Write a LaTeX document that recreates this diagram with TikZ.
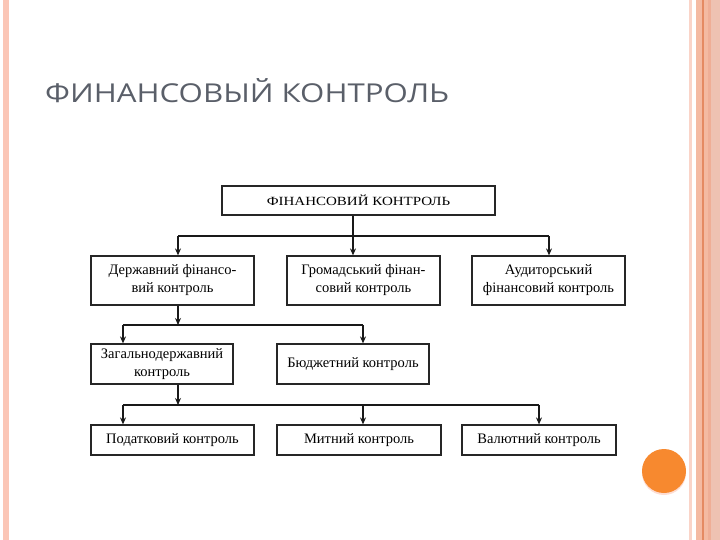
\documentclass[tikz,border=0pt]{standalone}
\usepackage{fontspec}
\setmainfont{Liberation Serif}
\newfontfamily\titlefont{Open Sans}
\usepackage{tikz}
\usepackage{xcolor}
\usetikzlibrary{arrows.meta, positioning, calc}

\definecolor{titlegray}{HTML}{5A5F69}
\definecolor{peach}{HTML}{FBC6B6}
\definecolor{lightpink}{HTML}{FAD4C8}
\definecolor{salmon}{HTML}{F4BAA2}
\definecolor{rustline}{HTML}{E58A62}
\definecolor{salmondark}{HTML}{EFAE96}
\definecolor{rosegray}{HTML}{EEC2B2}
\definecolor{dotorange}{HTML}{F7892F}

\begin{document}
\begin{tikzpicture}[
    x=1pt, y=-1pt,
    box/.style={rectangle, draw=black!85, line width=1.2pt, inner sep=0pt, align=center, font=\fontsize{14.5}{18}\selectfont},
    arrow/.style={->, >={Stealth[length=7pt,width=6pt]}, line width=1.2pt, draw=black!90},
    line/.style={line width=1.2pt, draw=black!90}
]
    \useasboundingbox (0,0) rectangle (720,540);

    % Slide frame
    \fill[peach] (3,0) rectangle (9,540);
    \fill[lightpink] (689,0) rectangle (692,540);
    \fill[salmon] (696,0) rectangle (708,540);
    \fill[rustline] (702,0) rectangle (703.5,540);
    \fill[salmondark] (708,0) rectangle (711,540);
    \fill[rosegray] (711,0) rectangle (720,540);

    % Title
    \node[anchor=base west, inner sep=0pt, text=titlegray, font=\titlefont\fontsize{26}{30}\selectfont] (title) at (45,103) {\scalebox{1.2}[1]{ФИНАНСОВЫЙ КОНТРОЛЬ}};

    % Top box
    \node[box, minimum width=273, minimum height=29, font=\fontsize{12.5}{14}\selectfont] (fin) at (358.5,200.5) {\scalebox{1.2}[1]{ФІНАНСОВИЙ КОНТРОЛЬ}};

    % Second level
    \node[box, minimum width=163, minimum height=49] (derzh) at (172.5,280.5) {Державний фінансо-\\вий контроль};
    \node[box, minimum width=153, minimum height=49] (grom) at (363.5,280.5) {Громадський фінан-\\совий контроль};
    \node[box, minimum width=153, minimum height=49] (audit) at (548.5,280.5) {Аудиторський\\фінансовий контроль};

    % Third level
    \node[box, minimum width=142, minimum height=40] (zag) at (162,364) {Загальнодержавний\\контроль};
    \node[box, minimum width=152, minimum height=40] (budg) at (353,364) {Бюджетний контроль};

    % Fourth level
    \node[box, minimum width=163, minimum height=30] (podat) at (172.5,440) {Податковий контроль};
    \node[box, minimum width=164, minimum height=30] (mytn) at (359,440) {Митний контроль};
    \node[box, minimum width=154, minimum height=30] (valut) at (539,440) {Валютний контроль};

    % Branch points
    \coordinate (b1l) at (178,236);
    \coordinate (b1m) at (353,236);
    \coordinate (b1r) at (549,236);
    \coordinate (b2l) at (123,325);
    \coordinate (b2m) at (178,325);
    \coordinate (b2r) at (363,325);
    \coordinate (b3l) at (123,405);
    \coordinate (b3m) at (178,405);
    \coordinate (b3c) at (363,405);
    \coordinate (b3r) at (539,405);

    % Connectors
    \draw[line] (b1l) -- (b1r);
    \draw[arrow] (b1m |- fin.south) -- (b1m |- grom.north);
    \draw[arrow] (b1l) -- (b1l |- derzh.north);
    \draw[arrow] (b1r) -- (b1r |- audit.north);

    \draw[arrow] (b2m |- derzh.south) -- (b2m);
    \draw[line] (b2l) -- (b2r);
    \draw[arrow] (b2l) -- (b2l |- zag.north);
    \draw[arrow] (b2r) -- (b2r |- budg.north);

    \draw[arrow] (b3m |- zag.south) -- (b3m);
    \draw[line] (b3l) -- (b3r);
    \draw[arrow] (b3l) -- (b3l |- podat.north);
    \draw[arrow] (b3c) -- (b3c |- mytn.north);
    \draw[arrow] (b3r) -- (b3r |- valut.north);

    % Orange dot
    \fill[peach!60] (664,473) circle (22);
    \fill[dotorange] (664,471) circle (22);

\end{tikzpicture}
\end{document}
